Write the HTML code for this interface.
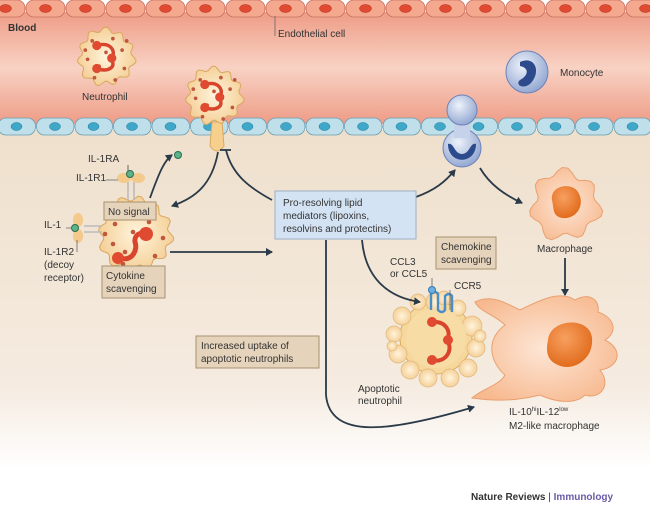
<!DOCTYPE html>
<html><head><meta charset="utf-8"><style>
html,body{margin:0;padding:0;background:#fff;width:650px;height:506px;overflow:hidden}
svg{display:block;font-family:"Liberation Sans",sans-serif}
.l{font-size:10px;fill:#333}
</style></head><body>
<svg id="s" width="650" height="506" viewBox="0 0 650 506">
<defs>
<linearGradient id="blood" x1="0" y1="0" x2="0" y2="1">
<stop offset="0" stop-color="#ee9c86"/><stop offset="0.5" stop-color="#f8d2c4"/><stop offset="1" stop-color="#ee9c86"/></linearGradient>
<linearGradient id="tis" x1="0" y1="0" x2="0" y2="1">
<stop offset="0" stop-color="#efe0cc"/><stop offset="0.75" stop-color="#f5ebe0"/><stop offset="1" stop-color="#ffffff"/></linearGradient>
<radialGradient id="mono" cx="0.4" cy="0.35" r="0.7"><stop offset="0" stop-color="#eef3fb"/><stop offset="1" stop-color="#8ea3cf"/></radialGradient>
<radialGradient id="neu" cx="0.5" cy="0.5" r="0.6"><stop offset="0" stop-color="#fff4dc"/><stop offset="1" stop-color="#f3c98c"/></radialGradient>
<radialGradient id="mac" cx="0.5" cy="0.5" r="0.6"><stop offset="0" stop-color="#fde6d6"/><stop offset="1" stop-color="#f7b98f"/></radialGradient>
<radialGradient id="nuc" cx="0.4" cy="0.35" r="0.7"><stop offset="0" stop-color="#f7a060"/><stop offset="1" stop-color="#e06818"/></radialGradient>
<marker id="a" markerWidth="8" markerHeight="8" refX="6" refY="4" orient="auto" markerUnits="userSpaceOnUse"><path d="M0,0 L7,4 L0,8 z" fill="#2a3a48"/></marker>
</defs>
<rect x="0" y="0" width="650" height="506" fill="#fff"/>
<rect x="0" y="130" width="650" height="340" fill="url(#tis)"/>
<rect x="0" y="12" width="650" height="112" fill="url(#blood)"/>
<g id="topr"></g><g id="botr"></g>
<text x="8" y="31" font-size="10" font-weight="bold" fill="#333">Blood</text>
<line x1="275" y1="16" x2="275" y2="36" stroke="#666" stroke-width="0.8"/>
<text x="278" y="37" class="l">Endothelial cell</text>
<g id="cells"></g>
<text x="82" y="100" class="l">Neutrophil</text>
<text x="560" y="76" class="l">Monocyte</text>
<g fill="none" stroke="#2a3a48" stroke-width="1.8">
<path d="M226,150 C232,175 250,188 272,200" />
<path d="M218,152 C212,185 195,198 172,206" marker-end="url(#a)"/>
<path d="M150,198 C160,170 165,160 172,155" marker-end="url(#a)"/>
<path d="M170,252 L272,252" marker-end="url(#a)"/>
<path d="M416,197 C435,190 445,182 455,170" marker-end="url(#a)"/>
<path d="M480,168 C490,185 505,195 522,203" marker-end="url(#a)"/>
<path d="M565,258 L565,295" marker-end="url(#a)"/>
<path d="M362,240 C365,275 385,297 420,302" marker-end="url(#a)"/>
<path d="M326,240 L326,395 C330,440 390,432 474,407" marker-end="url(#a)"/>
</g>
<line x1="220" y1="150" x2="231" y2="150" stroke="#2a3a48" stroke-width="1.8"/>
<circle cx="178" cy="155" r="3.5" fill="#5cb48a" stroke="#2c6d50"/>
<rect x="275" y="191" width="141" height="48" fill="#d4e3f3" stroke="#9ab0c8"/>
<text class="l" font-size="10.5" fill="#222"><tspan x="283" y="206">Pro-resolving lipid</tspan><tspan x="283" y="219">mediators (lipoxins,</tspan><tspan x="283" y="232">resolvins and protectins)</tspan></text>
<rect x="104" y="202" width="52" height="18" fill="#e5d3bb" stroke="#a8916f"/>
<text x="108" y="215" class="l" font-size="10.5">No signal</text>
<rect x="102" y="266" width="63" height="32" fill="#e5d3bb" stroke="#a8916f"/>
<text class="l" font-size="10.5"><tspan x="106" y="279">Cytokine</tspan><tspan x="106" y="292">scavenging</tspan></text>
<rect x="436" y="237" width="60" height="32" fill="#e5d3bb" stroke="#a8916f"/>
<text class="l" font-size="10.5"><tspan x="441" y="250">Chemokine</tspan><tspan x="441" y="263">scavenging</tspan></text>
<rect x="196" y="336" width="123" height="32" fill="#e5d3bb" stroke="#a8916f"/>
<text class="l" font-size="10.5"><tspan x="201" y="349">Increased uptake of</tspan><tspan x="201" y="362">apoptotic neutrophils</tspan></text>
<text class="l" x="88" y="162">IL-1RA</text><line x1="128" y1="165" x2="128" y2="172" stroke="#666"/>
<text class="l" x="76" y="181">IL-1R1</text>
<text class="l" x="44" y="228">IL-1</text>
<text class="l"><tspan x="44" y="255">IL-1R2</tspan><tspan x="44" y="268">(decoy</tspan><tspan x="44" y="281">receptor)</tspan></text>
<text class="l"><tspan x="390" y="265">CCL3</tspan><tspan x="390" y="277">or CCL5</tspan></text>
<text class="l" x="454" y="289">CCR5</text>
<text class="l" x="537" y="252">Macrophage</text>
<text class="l"><tspan x="358" y="392">Apoptotic</tspan><tspan x="358" y="404">neutrophil</tspan></text>
<text class="l" x="509" y="415">IL-10<tspan font-size="6" dy="-4">hi</tspan><tspan dy="4">IL-12</tspan><tspan font-size="6" dy="-4">low</tspan></text>
<text class="l" x="509" y="429">M2-like macrophage</text>
<text x="471" y="500" font-size="10" font-weight="bold" fill="#333">Nature Reviews <tspan font-weight="normal">|</tspan> <tspan fill="#6a5aa8">Immunology</tspan></text>
</svg>
<script>
(function(){
var NS="http://www.w3.org/2000/svg";
function el(p,t,a){var e=document.createElementNS(NS,t);for(var k in a)e.setAttribute(k,a[k]);p.appendChild(e);return e;}
var tg=document.getElementById("topr"),bg=document.getElementById("botr"),cells=document.getElementById("cells");
for(var x=-15;x<660;x+=40){el(tg,"rect",{x:x+1,y:0,width:39,height:17,rx:8,fill:"#f4a88e",stroke:"#c87060","stroke-width":0.8});el(tg,"ellipse",{cx:x+20.5,cy:8.5,rx:6,ry:4,fill:"#e04a30",stroke:"#b03020","stroke-width":0.5});}
for(var x2=-3;x2<660;x2+=38.5){el(bg,"rect",{x:x2+1,y:118,width:37.5,height:17,rx:8,fill:"#bfe0ea",stroke:"#6a9cb0","stroke-width":0.8});el(bg,"ellipse",{cx:x2+19.5,cy:126.5,rx:5.5,ry:4,fill:"#3fa8c8",stroke:"#22789a","stroke-width":0.5});}
function blob(cx,cy,r,n,amp,fill,stroke){var d="";for(var i=0;i<=n*6;i++){var t=i/(n*6)*Math.PI*2;var rr=r+amp*Math.sin(t*n)+amp*0.4*Math.sin(t*3+1);var px=cx+rr*Math.cos(t),py=cy+rr*Math.sin(t);d+=(i?"L":"M")+px.toFixed(1)+","+py.toFixed(1);}el(cells,"path",{d:d+"Z",fill:fill,stroke:stroke,"stroke-width":1});}
function neut(cx,cy,r,s){blob(cx,cy,r,11,2.5,"url(#neu)","#d9a860");
var dots=[[-12,-14],[6,-16],[14,-6],[-16,2],[-6,8],[16,10],[-10,18],[8,20],[0,-4],[-18,-6],[18,-14]];
dots.forEach(function(p){el(cells,"circle",{cx:cx+p[0]*s,cy:cy+p[1]*s,r:1.6*s,fill:"#c0563c"});});
el(cells,"path",{d:"M"+(cx-8*s)+","+(cy-10*s)+" C"+(cx+4*s)+","+(cy-14*s)+" "+(cx+10*s)+","+(cy-4*s)+" "+(cx+4*s)+","+(cy+2*s)+" C"+(cx+10*s)+","+(cy+8*s)+" "+(cx+2*s)+","+(cy+14*s)+" "+(cx-8*s)+","+(cy+10*s),fill:"none",stroke:"#d8442c","stroke-width":3*s});
[[-8,-10],[-8,10],[5,1]].forEach(function(p){el(cells,"circle",{cx:cx+p[0]*s,cy:cy+p[1]*s,r:4*s,fill:"#e04a30"});});}
neut(106,57,27,1.15);
el(cells,"path",{d:"M212,122 L210,146 Q217,156 224,146 L222,122Z",fill:"#f6d08c",stroke:"#d9a860"});
neut(214,96,27,1.15);
el(cells,"circle",{cx:527,cy:72,r:21,fill:"url(#mono)",stroke:"#6d82b8"});
el(cells,"path",{d:"M520,62 C535,55 542,72 530,84 C522,90 515,84 520,80 C528,76 530,68 520,66Z",fill:"#2c4a8c"});
el(cells,"circle",{cx:462,cy:148,r:19,fill:"url(#mono)",stroke:"#6d82b8"});
el(cells,"rect",{x:454,y:118,width:16,height:20,fill:"#c6d2ea"});
el(cells,"circle",{cx:462,cy:110,r:15,fill:"url(#mono)",stroke:"#6d82b8"});
el(cells,"path",{d:"M448,144 C448,165 476,165 476,144 C470,142 470,154 462,154 C454,154 454,142 448,144Z",fill:"#2c4a8c"});
blob(135,234,35,12,3,"url(#neu)","#d9a860");
[[-20,-10],[-22,10],[-10,18],[-2,-2],[14,-12],[-12,30],[20,22],[12,34],[28,4],[-30,0]].forEach(function(p){el(cells,"circle",{cx:135+p[0],cy:234+p[1],r:2.3,fill:"#c0563c"});});
el(cells,"path",{d:"M120,258 C132,262 138,250 135,242 C134,236 140,230 146,236",fill:"none",stroke:"#d8442c","stroke-width":5});
el(cells,"circle",{cx:146,cy:234,r:7,fill:"#e04a30"});el(cells,"circle",{cx:118,cy:258,r:6,fill:"#e04a30"});
el(cells,"path",{d:"M128,200 L128,182 M134,200 L134,182 M102,226 L84,226 M102,232 L84,232",stroke:"#bbb","stroke-width":1.6});
el(cells,"ellipse",{cx:124,cy:178,rx:7,ry:5,fill:"#f3c98c"});el(cells,"ellipse",{cx:138,cy:178,rx:7,ry:5,fill:"#f3c98c"});
el(cells,"circle",{cx:130,cy:174,r:3.5,fill:"#5cb48a",stroke:"#2c6d50"});
el(cells,"ellipse",{cx:78,cy:220,rx:5,ry:7,fill:"#f3c98c"});el(cells,"ellipse",{cx:78,cy:236,rx:5,ry:7,fill:"#f3c98c"});
el(cells,"circle",{cx:75,cy:228,r:3.5,fill:"#5cb48a",stroke:"#2c6d50"});
el(cells,"path",{d:"M66,228 L72,228 M77,240 L77,252 M106,180 L118,180",stroke:"#666","stroke-width":0.8});
blob(565,205,33,7,4,"url(#mac)","#e9a070");
el(cells,"path",{d:"M552,200 C550,185 572,182 578,192 C586,205 576,220 562,218 C552,216 554,208 552,200Z",fill:"url(#nuc)"});
el(cells,"path",{d:"M475,302 C490,295 500,300 520,310 C540,300 560,290 575,300 C590,292 600,300 598,312 C615,318 618,332 605,340 C625,350 618,368 600,370 C612,385 600,400 585,395 C575,405 555,402 540,395 C520,400 500,402 472,398 C480,390 500,385 505,375 C490,362 485,340 505,325 C495,315 480,312 475,302Z",fill:"url(#mac)",stroke:"#e9a070"});
el(cells,"path",{d:"M548,340 C550,318 590,316 592,338 C594,360 572,372 558,365 C546,360 546,350 548,340Z",fill:"url(#nuc)"});
el(cells,"circle",{cx:436,cy:338,r:36,fill:"#f6d79c",stroke:"#d9a860"});
[[0,-36,10],[22,-30,8],[36,-12,10],[40,10,9],[32,30,9],[14,40,9],[-8,40,9],[-26,32,9],[-38,16,9],[-42,-4,8],[-34,-22,9],[-18,-36,8],[8,-40,7],[44,-2,6],[-44,8,5]].forEach(function(p){el(cells,"circle",{cx:436+p[0],cy:338+p[1],r:p[2],fill:"url(#neu)",stroke:"#e0b878","stroke-width":0.7});});
el(cells,"circle",{cx:436,cy:338,r:30,fill:"#f8dca6"});
el(cells,"path",{d:"M432,322 C448,320 452,336 446,340 C454,346 448,364 432,360",fill:"none",stroke:"#d8442c","stroke-width":4});
el(cells,"circle",{cx:432,cy:322,r:5,fill:"#e04a30"});el(cells,"circle",{cx:432,cy:360,r:5,fill:"#e04a30"});el(cells,"circle",{cx:448,cy:340,r:5,fill:"#e04a30"});
el(cells,"path",{d:"M431,310 L431,294 Q435,290 438,294 L438,310 Q442,314 445,310 L445,296 Q449,292 452,296 L452,312",fill:"none",stroke:"#4a8ec8","stroke-width":2.4});
el(cells,"circle",{cx:432,cy:290,r:3.5,fill:"#6ab0e0",stroke:"#3a78b0"});
el(cells,"path",{d:"M432,286 L432,278 M450,310 L450,290",stroke:"#666","stroke-width":0.8});
})();
</script>
</body></html>
